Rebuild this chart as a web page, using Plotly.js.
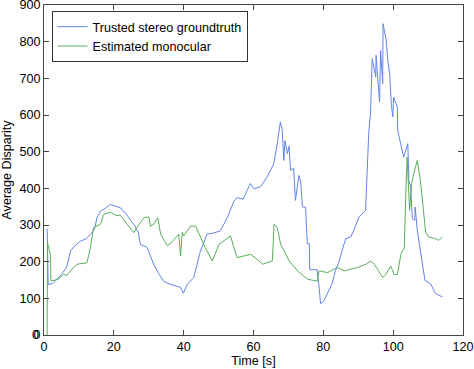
<!DOCTYPE html>
<html>
<head>
<meta charset="utf-8">
<script src="https://cdn.plot.ly/plotly-3.0.1.min.js"></script>
<style>html,body{margin:0;padding:0;background:#fff;}#chart{width:474px;height:369px;}</style>
</head>
<body>
<div id="chart"></div>
<script>
const seriesNames = ["Trusted stereo groundtruth", "Estimated monocular"];

const stereoTime = [0.9, 1.0, 1.2, 2.5, 3.5, 5, 6.5, 7.6, 8.5, 10.4, 12, 13.3, 14.5, 15.2, 16.2, 17.5, 19.0, 20.5, 21.9, 23.5, 25.7, 27.0, 27.6, 29.5, 31.4, 33.0, 34.3, 36.2, 38.0, 39.1, 39.9, 41.0, 42.9, 44.8, 46.7, 48.5, 50.5, 52.5, 54.4, 55.3, 57.0, 59.1, 60.1, 62.0, 63.9, 65.8, 66.8, 67.7, 68.2, 68.7, 69.0, 69.7, 70.2, 70.6, 71.5, 72.0, 73.0, 73.5, 74.0, 74.9, 75.4, 76.0, 76.1, 78.2, 78.7, 79.2, 80.0, 81.1, 82.5, 83.5, 84.4, 85.4, 86.4, 87.8, 88.7, 90.2, 92.1, 93.0, 93.5, 94.0, 95.0, 95.1, 96.1, 96.4, 97.0, 97.1, 98.0, 98.4, 99.0, 99.5, 99.9, 100.1, 101.2, 101.3, 103.0, 104.2, 104.5, 105.0, 105.5, 106.2, 106.3, 106.9, 108.3, 109.1, 110.7, 112.1, 114.1];
const stereoValue = [290, 140, 138, 140, 150, 165, 185, 229, 240, 256, 262, 274, 290, 321, 338, 345, 356, 352, 347, 330, 302, 280, 247, 239, 193, 165, 146, 138, 132, 130, 114, 138, 157, 229, 275, 278, 284, 320, 365, 375, 370, 413, 399, 404, 431, 467, 522, 581, 560, 476, 530, 495, 515, 449, 455, 367, 435, 420, 349, 349, 249, 249, 178, 178, 140, 86, 90, 113, 140, 176, 197, 231, 263, 267, 285, 322, 340, 549, 604, 754, 704, 763, 635, 776, 685, 849, 804, 754, 713, 626, 595, 649, 622, 558, 485, 522, 422, 404, 317, 313, 349, 286, 195, 149, 140, 113, 104];

const monoTime = [0.9, 1.0, 1.8, 2.0, 4.0, 5.6, 6.6, 8.0, 9.5, 12.3, 13.3, 14.2, 16.2, 17.1, 19.0, 20.9, 21.8, 23.8, 25.7, 26.6, 28.6, 30.0, 30.5, 31.4, 32.6, 33.4, 35.3, 36.7, 38.6, 39.1, 39.6, 40.0, 42.0, 43.4, 44.8, 46.2, 48.2, 50.1, 53.4, 54.4, 55.3, 57.0, 59.2, 61.1, 62.6, 65.4, 65.9, 66.8, 67.8, 69.3, 70.2, 72.6, 75.5, 78.3, 78.8, 81.2, 83.1, 84.0, 86.0, 87.9, 89.8, 92.2, 93.6, 94.6, 96.0, 97.0, 97.9, 99.3, 100.3, 101.2, 102.2, 103.2, 103.6, 104.0, 104.7, 105.3, 105.9, 106.9, 107.8, 109.3, 110.2, 112.1, 113.0, 114.1];
const monoValue = [0, 252, 220, 147, 152, 165, 163, 180, 193, 197, 238, 293, 302, 329, 335, 325, 327, 302, 279, 293, 320, 322, 297, 302, 320, 275, 243, 254, 275, 215, 280, 270, 297, 297, 266, 238, 202, 247, 270, 238, 211, 215, 220, 206, 193, 202, 302, 293, 247, 220, 202, 175, 152, 147, 175, 170, 179, 184, 175, 179, 184, 193, 202, 193, 170, 157, 165, 188, 165, 165, 220, 238, 381, 485, 340, 413, 440, 476, 422, 281, 267, 263, 258, 267];

const xTicks = [0, 20, 40, 60, 80, 100, 120];
const yTicks = [0, 100, 200, 300, 400, 500, 600, 700, 800, 900];

const font = {family: "Liberation Sans, Arial, sans-serif", size: 12.6, color: "#000"};

const traces = [
  {x: stereoTime, y: stereoValue, name: seriesNames[0], type: "scatter", mode: "lines",
   line: {color: "#6284e6", width: 1}},
  {x: monoTime, y: monoValue, name: seriesNames[1], type: "scatter", mode: "lines",
   line: {color: "#5aae5a", width: 1}}
];

const axisCommon = {
  showgrid: false, zeroline: false, showline: true, linecolor: "#444", linewidth: 1,
  mirror: "ticks", ticks: "inside", ticklen: 5, tickcolor: "#444", tickfont: font,
  automargin: false, ticklabeloverflow: "allow"
};

const layout = {
  width: 474, height: 369,
  margin: {l: 44, r: 11, t: 5, b: 34},
  paper_bgcolor: "#fff", plot_bgcolor: "#fff",
  font: font,
  showlegend: true,
  legend: {x: 0.018, y: 0.982, xanchor: "left", yanchor: "top", bgcolor: "#fff",
           bordercolor: "#333", borderwidth: 1, font: font, tracegroupgap: 0},
  xaxis: Object.assign({}, axisCommon, {range: [0, 120], tickvals: xTicks, ticktext: xTicks.map(String),
    title: {text: "Time [s]", font: font, standoff: 2}}),
  yaxis: Object.assign({}, axisCommon, {range: [0, 900], tickvals: yTicks, ticktext: yTicks.map(String),
    title: {text: "Average Disparity", font: font, standoff: 6}}),
  annotations: [{xref: "paper", x: 0, xanchor: "right", xshift: -3, yref: "y", y: yTicks[0],
    yanchor: "middle", text: String(yTicks[0]), showarrow: false, font: font}]
};

Plotly.newPlot("chart", traces, layout, {displayModeBar: false, staticPlot: true});
</script>
</body>
</html>
